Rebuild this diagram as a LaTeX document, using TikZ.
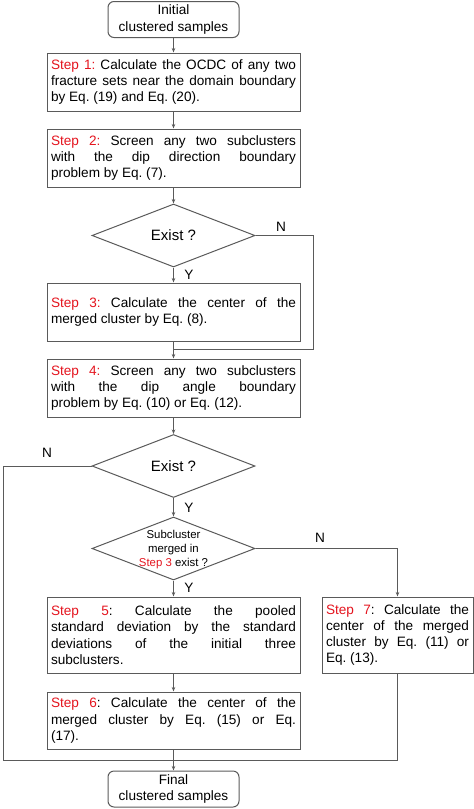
\documentclass[tikz,border=0pt]{standalone}
\usepackage{fontspec}
\setmainfont{Liberation Sans}
\usetikzlibrary{shapes.geometric,arrows.meta}
\definecolor{ln}{RGB}{90,90,90}
\definecolor{stp}{RGB}{228,20,30}
\newcommand{\stp}[1]{\textcolor{stp}{#1}}
\frenchspacing
\begin{document}
\frenchspacing
\begin{tikzpicture}[x=1pt,y=-1pt,
  conn/.style={draw=ln,line width=1pt},
  arr/.style={conn,-{Stealth[length=4.5pt,width=3.5pt]}},
  box/.style={draw=ln,line width=1pt,rectangle,minimum width=253pt,minimum height=58pt,
    text width=245pt,inner sep=4pt,align=justify,font=\fontsize{13.6}{16.3}\selectfont\frenchspacing},
  smallbox/.style={box,minimum width=151pt,text width=143pt,minimum height=76pt},
  term/.style={draw=ln,line width=1pt,rectangle,rounded corners=6pt,minimum width=131pt,
    minimum height=36pt,inner sep=2pt,align=center,font=\fontsize{13.6}{16.5}\selectfont},
  dia/.style={draw=ln,line width=1pt,diamond,aspect=2.6,inner sep=0pt,minimum width=163pt,
    minimum height=63pt,font=\fontsize{15}{18}\selectfont},
  dtext/.style={align=center,inner sep=0pt,font=\fontsize{11.4}{14}\selectfont},
  lab/.style={inner sep=0pt,font=\fontsize{13.6}{16}\selectfont}
]
\useasboundingbox (0,0) rectangle (474,809);
\node[term] (init) at (173.5,19.5) {Initial\\clustered samples};
\node[box] (s1) at (173.5,82) {\stp{Step 1:} Calculate the OCDC of any two\linebreak fracture sets near the domain boundary\linebreak by Eq. (19) and Eq. (20).};
\node[box] (s2) at (173.5,158) {\stp{Step 2:} Screen any two subclusters\linebreak with the dip direction boundary\linebreak problem by Eq. (7).};
\node[dia] (d1) at (173.5,235.5) {Exist ?};
\node[box] (s3) at (173.5,312) {\stp{Step 3:} Calculate the center of the\linebreak merged cluster by Eq. (8).};
\node[box] (s4) at (173.5,388) {\stp{Step 4:} Screen any two subclusters\linebreak with the dip angle boundary\linebreak problem by Eq. (10) or Eq. (12).};
\node[dia] (d2) at (173.5,466) {Exist ?};
\node[dia] (d3) at (173.5,548.5) {};
\node[dtext] (d3t) at (173.5,550) {Subcluster\\merged in\\\stp{Step 3} exist ?};
\node[box,minimum height=76pt] (s5) at (173.5,635) {\stp{Step 5}: Calculate the pooled\linebreak standard deviation by the standard\linebreak deviations of the initial three\linebreak subclusters.};
\node[smallbox] (s7) at (397.5,635) {\stp{Step 7}: Calculate the\linebreak center of the merged\linebreak cluster by Eq. (11) or\linebreak Eq. (13).};
\node[box,minimum height=57pt] (s6) at (173.5,720.5) {\stp{Step 6}: Calculate the center of the\linebreak merged cluster by Eq. (15) or Eq.\linebreak (17).};
\node[term] (fin) at (173.5,789) {Final\\clustered samples};
\coordinate (m1) at (173.5,349);
\coordinate (r1) at (313,349);
\coordinate (m2) at (173.5,760);
\coordinate (l1) at (3,760);
\node[lab] (n1) at (281,227) {N};
\node[lab] (y1) at (189,275) {Y};
\node[lab] (n2) at (47,453) {N};
\node[lab] (y2) at (189,508) {Y};
\node[lab] (n3) at (320,538) {N};
\node[lab] (y3) at (189,588) {Y};
\draw[arr] (init) -- (s1);
\draw[arr] (s1) -- (s2);
\draw[arr] (s2) -- (d1);
\draw[arr] (d1) -- (s3);
\draw[conn] (s3.south) -- (m1);
\draw[conn] (d1.east) -| (r1) -- (m1);
\draw[arr] (m1) -- (s4);
\draw[arr] (s4) -- (d2);
\draw[conn] (d2.west) -| (l1) -- (m2);
\draw[arr] (d2) -- (d3);
\draw[arr] (d3.east) -| (s7.north);
\draw[arr] (d3) -- (s5);
\draw[arr] (s5) -- (s6);
\draw[conn] (s6.south) -- (m2);
\draw[conn] (s7.south) |- (m2);
\draw[arr] (m2) -- (fin);
\end{tikzpicture}
\end{document}
